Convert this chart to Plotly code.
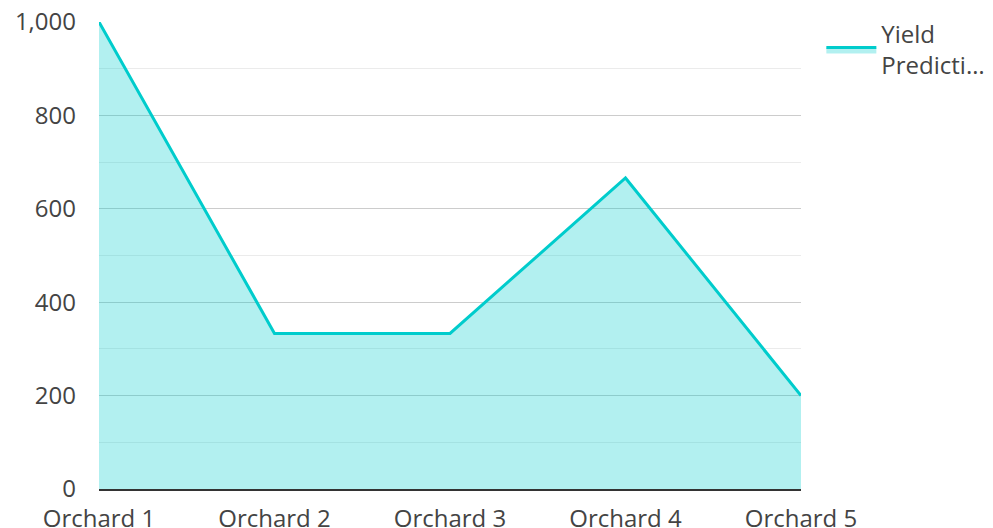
import plotly.graph_objects as go

categories = ["Orchard 1", "Orchard 2", "Orchard 3", "Orchard 4", "Orchard 5"]
yield_values = [1000, 333, 333, 666, 200]
series_name = "Yield<br>Predicti…"

fig = go.Figure()
fig.add_trace(go.Scatter(
    x=categories, y=yield_values, name=series_name,
    mode="lines", fill="tozeroy",
    line=dict(color="#00cccc", width=3),
    fillcolor="rgba(0,204,204,0.3)",
    showlegend=True,
))

fig.update_layout(
    width=993, height=528,
    margin=dict(l=91, r=200, t=14, b=47, autoexpand=False),
    paper_bgcolor="white", plot_bgcolor="white",
    font=dict(family="Open Sans", size=24, color="#444"),
    legend=dict(x=1.029, y=1.022, xanchor="left", yanchor="top",
                font=dict(size=24, color="#444"), itemwidth=50,
                bgcolor="rgba(0,0,0,0)"),
    xaxis=dict(range=[0, 4], showgrid=False, showline=True, automargin=False,
               linecolor="#333", linewidth=2, ticks="", ticklen=0,
               ticklabeloverflow="allow",
               ticklabelstandoff=7, tickfont=dict(size=24)),
    yaxis=dict(range=[0, 1000], dtick=200, tickformat=",d", automargin=False,
               showgrid=True, gridcolor="#cccccc", gridwidth=1,
               minor=dict(dtick=100, showgrid=True, gridcolor="#ebebeb", gridwidth=1),
               zeroline=False, showline=False, ticks="",
               ticklabeloverflow="allow",
               ticklabelstandoff=22, tickfont=dict(size=24)),
)

fig.write_html("out.html")
